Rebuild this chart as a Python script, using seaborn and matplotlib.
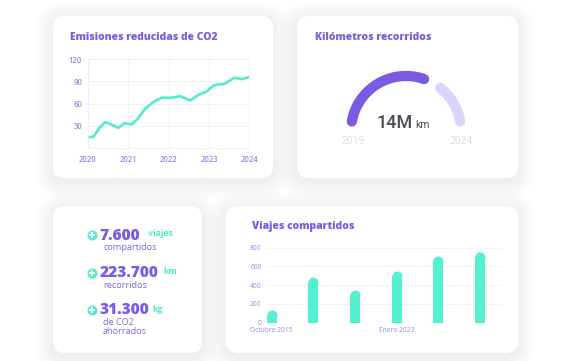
import numpy as np
import matplotlib.pyplot as plt
import seaborn as sns
from matplotlib.patches import FancyBboxPatch

# ---- data ----
co2_year = [2020.0, 2020.14, 2020.3, 2020.43, 2020.59, 2020.76, 2020.92, 2021.09, 2021.21,
            2021.42, 2021.62, 2021.83, 2022.08, 2022.29, 2022.54, 2022.75, 2022.92,
            2023.13, 2023.38, 2023.63, 2023.82, 2024.0]
co2_value = [14.8, 15.5, 28, 35, 32, 27.5, 34, 32, 38, 53, 62, 68, 68, 70, 64.5, 72, 75.5,
             85, 86.7, 94.7, 93, 96]
co2_xticks = [2020, 2021, 2022, 2023, 2024]
co2_yticks = [30, 60, 90, 120]

gauge_years = ["2019", "2024"]
gauge_value = "14M"
gauge_unit = "km"
gauge_done = 0.62   # share of the arc already covered
gauge_rest = 0.26   # light part at the end

stat_values = ["7.600", "223.700", "31.300"]
stat_units = ["viajes", "km", "kg"]
stat_captions = ["compartidos", "recorridos", "de CO2\nahorrados"]

trip_labels = ["Octubre 2015", "", "", "Enero 2023", "", ""]
trip_values = [135, 485, 345, 555, 715, 750]
trip_yticks = [0, 200, 400, 600, 800]

PURPLE = "#7b5ce6"
PURPLE_LIGHT = "#9b86f0"
TEAL = "#52edcb"
W, H = 571, 361

sns.set_theme(style="white")
plt.rcParams["font.family"] = ["Open Sans", "DejaVu Sans"]

fig = plt.figure(figsize=(W / 100, H / 100), dpi=100)

# background layer in pixel coordinates (y downwards)
bg = fig.add_axes([0, 0, 1, 1], zorder=0)
bg.set_xlim(0, W)
bg.set_ylim(H, 0)
bg.axis("off")


def card(x0, y0, x1, y1):
    for k in range(16, 0, -1):
        bg.add_patch(FancyBboxPatch((x0, y0 + 3), x1 - x0, y1 - y0,
                                    boxstyle=f"round,pad={k * 1.1},rounding_size={12 + k * 1.1}",
                                    fc="#909090", ec="none", alpha=0.006))
    bg.add_patch(FancyBboxPatch((x0, y0), x1 - x0, y1 - y0,
                                boxstyle="round,pad=0,rounding_size=12",
                                fc="white", ec="none"))


def box(x0, y0, x1, y1):
    return [x0 / W, 1 - y1 / H, (x1 - x0) / W, (y1 - y0) / H]


card(53, 16, 273, 178)
card(297, 16, 518, 178)
card(53, 206, 202, 353)
card(226, 206, 518, 353)

title_kw = dict(color=PURPLE, fontsize=7.5, fontweight="heavy", va="center", ha="left")
bg.text(70.5, 37, "Emisiones reducidas de CO2", **title_kw)
bg.text(315, 37, "Kilómetros recorridos", **title_kw)
bg.text(251.5, 227, "Viajes compartidos", **title_kw)

# ---- line chart ----
ax1 = fig.add_axes(box(87.7, 59, 249.3, 148.3), zorder=1)
ax1.patch.set_alpha(0)
sns.lineplot(x=co2_year, y=co2_value, color=TEAL, lw=1.9, ax=ax1)
ax1.set_xlim(2020, 2024)
ax1.set_ylim(0, 120)
ax1.set_xticks(co2_xticks)
ax1.set_yticks(co2_yticks)
ax1.grid(True, color="#f0f0f0", lw=0.6)
for s in ax1.spines.values():
    s.set_color("#f0f0f0")
    s.set_linewidth(0.6)
ax1.tick_params(length=0, labelsize=5.5, labelcolor=PURPLE_LIGHT)
ax1.tick_params(axis="x", pad=5)
ax1.tick_params(axis="y", pad=4)
for t in ax1.get_xticklabels() + ax1.get_yticklabels():
    t.set_fontweight("semibold")

# ---- gauge ----
ax2 = fig.add_axes(box(297, 16, 518, 178), zorder=1)
ax2.set_xlim(297, 518)
ax2.set_ylim(178, 16)
ax2.axis("off")
cx, cy, R = 406, 131, 55
a_start, a_span = 170, 160
a_done = a_start - a_span * gauge_done
a_light = a_start - a_span * (1 - gauge_rest)
for a0, a1, col in [(a_start, a_done, "#7b5ae4"), (a_light, a_start - a_span, "#d9d4fa")]:
    th = np.radians(np.linspace(a0, a1, 120))
    ax2.plot(cx + R * np.cos(th), cy - R * np.sin(th), color=col, lw=7.4,
             solid_capstyle="round")
ax2.text(413, 128.5, gauge_value, fontsize=13, color="#4a4a55", ha="right", va="baseline",
         family=["Roboto", "DejaVu Sans"], fontweight="medium")
ax2.text(415, 128.5, gauge_unit, fontsize=7.5, color="#4a4a55", ha="left", va="baseline",
         family=["Roboto", "DejaVu Sans"])
ax2.text(353, 141, gauge_years[0], fontsize=7.5, color="#dedede", ha="center", va="center",
         family=["Roboto", "DejaVu Sans"])
ax2.text(461, 141, gauge_years[1], fontsize=7.5, color="#dedede", ha="center", va="center",
         family=["Roboto", "DejaVu Sans"])

# ---- stats card ----
stat_y = [235, 272.5, 310]
unit_x = [148.5, 163, 152.5]
bg.scatter([91.7] * 3, stat_y, s=52, color=TEAL, zorder=3, linewidths=0)
bg.scatter([91.7] * 3, stat_y, s=22, marker="+", color="white", zorder=4, linewidths=1.3)
for y, v, u, ux, c in zip(stat_y, stat_values, stat_units, unit_x, stat_captions):
    bg.text(99.5, y + 0.5, v, fontsize=11.2, fontweight="heavy", color=PURPLE, va="center")
    bg.text(ux, y - 1, u, fontsize=6.3, fontweight="bold", color=TEAL, va="center")
    bg.text(103, y + 8, c, fontsize=6.6, color="#8364ee", fontweight="medium",
            va="top", linespacing=0.95)

# ---- bar chart ----
ax4 = fig.add_axes(box(266.7, 247.7, 501.7, 322.7), zorder=1)
ax4.patch.set_alpha(0)
ax4.set_xlim(-0.12, 5.52)
ax4.set_ylim(0, 800)
r = 5 * 800 / 75  # half a bar width, in data units
pos = np.arange(len(trip_values))
ax4.bar(pos, np.array(trip_values) - r, width=0.24, color="#55f0d0", linewidth=0)
ax4.scatter(pos, np.array(trip_values) - r, s=51.8, color="#55f0d0", linewidths=0, zorder=3)
ax4.set_xlim(-0.12, 5.52)
ax4.set_ylim(0, 800)
ax4.set_yticks(trip_yticks)
ax4.set_xticks(pos)
ax4.set_xticklabels(trip_labels)
ax4.grid(True, axis="y", color="#f2f2f2", lw=0.6)
ax4.grid(False, axis="x")
sns.despine(ax=ax4, left=True, bottom=True)
ax4.tick_params(length=0, labelsize=4.8, labelcolor=PURPLE_LIGHT)
ax4.tick_params(axis="y", pad=3.6)
ax4.tick_params(axis="x", pad=3)

fig.savefig("out.png", dpi=100)
